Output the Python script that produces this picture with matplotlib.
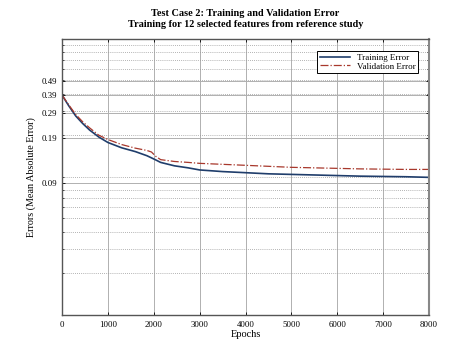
import matplotlib
matplotlib.use("Agg")
import matplotlib.pyplot as plt
from matplotlib.ticker import FixedLocator, NullFormatter

# values (semilogy plot)
epochs = [0, 150, 300, 450, 600, 800, 1000, 1300, 1600, 1850, 1950, 2050, 2150,
          2450, 2750, 3000, 3500, 4000, 4500, 5000, 5500, 6000, 6500, 7000, 7500, 8000]
training_error = [0.39, 0.325, 0.275, 0.243, 0.218, 0.194, 0.177, 0.162, 0.152, 0.142,
                  0.137, 0.132, 0.127, 0.120, 0.116, 0.112, 0.109, 0.107, 0.105, 0.104,
                  0.103, 0.102, 0.101, 0.1005, 0.100, 0.099]
validation_error = [0.39, 0.33, 0.282, 0.250, 0.226, 0.200, 0.186, 0.171, 0.161, 0.155,
                    0.151, 0.140, 0.133, 0.129, 0.127, 0.125, 0.123, 0.121, 0.119, 0.117,
                    0.116, 0.115, 0.114, 0.1135, 0.113, 0.113]

y_ticks = [0.09, 0.19, 0.29, 0.39, 0.49]
y_tick_labels = ["0.09", "0.19", "0.29", "0.39", "0.49"]
x_ticks = [0, 1000, 2000, 3000, 4000, 5000, 6000, 7000, 8000]
minor_y = [0.02, 0.03, 0.04, 0.05, 0.06, 0.07, 0.08, 0.1,
           0.2, 0.3, 0.4, 0.5, 0.6, 0.7, 0.8, 0.9]

serif = ["Liberation Serif", "DejaVu Serif"]
plt.rcParams["font.family"] = serif

fig = plt.figure(figsize=(4.74, 3.55), dpi=100)
ax = fig.add_axes([0.1308, 0.1127, 0.7743, 0.7788])

ax.plot(epochs, training_error, color="#1f3d6b", lw=1.2, label="Training Error")
ax.plot(epochs, validation_error, color="#a8382c", lw=0.9, ls="-.", label="Validation Error")

ax.set_yscale("log")
ax.set_ylim(0.01, 1)
ax.set_xlim(0, 8000)

ax.yaxis.set_major_locator(FixedLocator(y_ticks))
ax.set_yticklabels(y_tick_labels)
ax.yaxis.set_minor_locator(FixedLocator(minor_y))
ax.yaxis.set_minor_formatter(NullFormatter())
ax.set_xticks(x_ticks)

ax.grid(True, which="major", color="#b0b0b0", lw=0.7, ls="-")
ax.grid(True, which="minor", axis="y", color="#9a9a9a", lw=0.6, ls=(0, (1, 1.5)))

ax.tick_params(which="both", direction="in", top=True, right=True, labelsize=6.3)
ax.tick_params(axis="x", pad=4)
ax.tick_params(which="major", length=2.5, width=0.6)
ax.tick_params(which="minor", length=1.5, width=0.5)

for s in ax.spines.values():
    s.set_color("#555555")
    s.set_linewidth(1.0)
ax.spines["right"].set_color("#888888")
ax.spines["right"].set_linewidth(1.5)

ax.set_xlabel("Epochs", fontsize=7.5, labelpad=1)
ax.set_ylabel("Errors (Mean Absolute Error)", fontsize=7.3, labelpad=4)
ax.set_title("Test Case 2: Training and Validation Error\n"
             "Training for 12 selected features from reference study",
             fontsize=7.4, fontweight="bold", pad=8, linespacing=1.4)

leg = ax.legend(loc="upper right", fontsize=6.5, frameon=True, fancybox=False,
                edgecolor="black", framealpha=1, handlelength=3.3,
                borderpad=0.3, labelspacing=0.05, bbox_to_anchor=(0.983, 0.972))
leg.get_frame().set_linewidth(0.7)

fig.savefig("out.png", dpi=100)
